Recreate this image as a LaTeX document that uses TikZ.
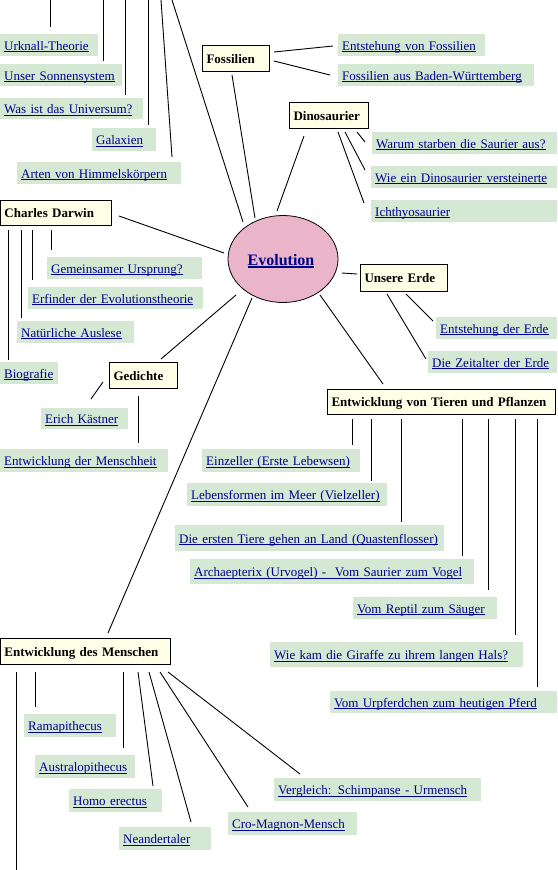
\documentclass[tikz,border=0pt]{standalone}
\usepackage{fontspec}
\setmainfont{Liberation Serif}
\usetikzlibrary{calc,shapes.geometric}
\definecolor{gfill}{RGB}{213,232,212}
\definecolor{yfill}{RGB}{255,255,232}
\definecolor{pfill}{RGB}{234,181,200}
\definecolor{lnk}{RGB}{0,0,140}
\newsavebox\lkbox
\newcommand\lk[1]{\sbox\lkbox{\color{lnk}#1}{\color{lnk}\rlap{\rule[-0.16em]{\wd\lkbox}{0.07em}}}\usebox\lkbox}
\tikzset{
  gb/.style={fill=gfill, inner xsep=4pt, inner ysep=0pt, align=left, anchor=north west,
    text height=10pt, text depth=0pt, font=\fontsize{13}{15}\selectfont},
  yb/.style={fill=yfill, draw=black, line width=1pt, inner xsep=4pt, inner ysep=0pt, align=left,
    anchor=north west, text height=9pt, text depth=0pt, font=\fontsize{13}{15}\selectfont\bfseries},
  cn/.style={draw=black, line width=0.9pt},
}
\newcommand\gbx[6]{\pgfmathsetmacro\tw{#4-#2-8}\pgfmathsetmacro\th{#5-#3}%
  \node[gb,text width=\tw pt,minimum height=\th pt] (#1) at (#2,#3) {\lk{#6}};}
\newcommand\ybx[6]{\pgfmathsetmacro\tw{#4-#2-8}\pgfmathsetmacro\th{#5-#3}%
  \node[yb,text width=\tw pt,minimum height=\th pt] (#1) at (#2,#3) {#6};}
\newcommand\cnn[6]{\draw[cn] ($(#1.north west)+(#2,#3)$) -- ($(#4.north west)+(#5,#6)$);}
\begin{document}
\begin{tikzpicture}[x=1pt,y=-1pt]
\useasboundingbox (0,0) rectangle (557,870);
% free ends
\coordinate (t1) at (50,0);
\coordinate (t2) at (103,0);
\coordinate (t3) at (125,0);
\coordinate (t4) at (148,0);
\coordinate (t5) at (161,0);
\coordinate (t6) at (172,0);
\coordinate (b1) at (16,870);
% central node
\node[ellipse, draw=black, fill=pfill, line width=0.8pt, minimum width=110pt, minimum height=87pt, inner sep=0pt,
  text height=12pt, text depth=0pt]
  (evo) at (283,259) {\fontsize{16}{18}\selectfont\bfseries\lk{Evolution}\hspace*{4pt}};
% green boxes
\gbx{urk}{0}{34}{98}{56}{Urknall-Theorie}
\gbx{sonn}{0}{64}{122}{86}{Unser Sonnensystem}
\gbx{univ}{0}{98}{143}{119}{Was ist das Universum?}
\gbx{gal}{92}{128}{156}{151}{Galaxien}
\gbx{himm}{17}{162}{181}{184}{Arten von Himmelskörpern}
\gbx{entf}{338}{34}{485}{56}{Entstehung von Fossilien}
\gbx{fbw}{338}{64}{534}{86}{Fossilien aus Baden-Württemberg}
\gbx{warum}{372}{132}{557}{154}{Warum starben die Saurier aus?}
\gbx{wie}{371}{166}{557}{188}{Wie ein Dinosaurier versteinerte}
\gbx{ich}{371}{200}{557}{222}{Ichthyosaurier}
\gbx{gem}{47}{257}{202}{279}{Gemeinsamer Ursprung?}
\gbx{erf}{28}{287}{203}{309}{Erfinder der Evolutionstheorie}
\gbx{nat}{17}{321}{134}{343}{Natürliche Auslese}
\gbx{bio}{0}{362}{58}{384}{Biografie}
\gbx{erich}{41}{408}{128}{429}{Erich Kästner}
\gbx{menschheit}{0}{449}{168}{472}{Entwicklung der Menschheit}
\gbx{entE}{436}{317}{557}{339}{Entstehung der Erde}
\gbx{zeit}{428}{351}{557}{373}{Die Zeitalter der Erde}
\gbx{einz}{202}{449}{360}{472}{Einzeller (Erste Lebewsen)}
\gbx{meer}{187}{483}{387}{506}{Lebensformen im Meer (Vielzeller)}
\gbx{land}{175}{525}{444}{551}{Die ersten Tiere gehen an Land (Quastenflosser)}
\gbx{arch}{190}{559}{474}{584}{Archaepterix (Urvogel) - \ Vom Saurier zum Vogel}
\gbx{rept}{353}{597}{497}{619}{Vom Reptil zum Säuger}
\gbx{gir}{270}{642}{523}{667}{Wie kam die Giraffe zu ihrem langen Hals?}
\gbx{pferd}{330}{691}{557}{713}{Vom Urpferdchen zum heutigen Pferd}
\gbx{rama}{24}{714}{116}{737}{Ramapithecus}
\gbx{austr}{35}{755}{135}{778}{Australopithecus}
\gbx{homo}{69}{789}{162}{812}{Homo erectus}
\gbx{nean}{119}{827}{211}{850}{Neandertaler}
\gbx{cro}{228}{812}{357}{835}{Cro-Magnon-Mensch}
\gbx{vergl}{274}{778}{481}{801}{Vergleich: Schimpanse - Urmensch}
% ivory boxes
\ybx{foss}{202}{45}{269}{71}{Fossilien}
\ybx{dino}{289}{102}{368}{128}{Dinosaurier}
\ybx{darwin}{0}{200}{111}{225}{Charles Darwin}
\ybx{ged}{109}{362}{177}{388}{Gedichte}
\ybx{erde}{360}{264}{447}{291}{Unsere Erde}
\ybx{tiere}{327}{389}{555}{414}{Entwicklung von Tieren und Pflanzen}
\ybx{mensch}{0}{638}{170}{664}{Entwicklung des Menschen}
% connectors from the top edge
\draw[cn] (t1) -- ($(urk.north west)+(50,-7)$);
\draw[cn] (t2) -- ($(sonn.north west)+(103,-3)$);
\draw[cn] (t3) -- ($(univ.north west)+(125,-3)$);
\draw[cn] (t4) -- ($(gal.north west)+(56,-3)$);
\draw[cn] (t5) -- ($(himm.north west)+(155,-5)$);
\draw[cn] (t6) -- ($(evo.center)+(-40,-37)$);
% Fossilien
\draw[cn] ($(foss.north west)+(30,30)$) -- ($(evo.center)+(-28,-41)$);
\cnn{foss}{72}{7}{entf}{-5}{12}
\cnn{foss}{72}{16}{fbw}{-8}{11}
% Dinosaurier
\draw[cn] ($(dino.north west)+(15,34)$) -- ($(evo.center)+(-6,-48)$);
\cnn{dino}{68}{30}{warum}{-7}{10}
\cnn{dino}{56}{30}{wie}{-6}{4}
\cnn{dino}{49}{30}{ich}{-7}{3}
% Darwin
\draw[cn] ($(darwin.north west)+(119,16)$) -- ($(evo.center)+(-59,-6)$);
\cnn{darwin}{8}{30}{bio}{8}{-2}
\cnn{darwin}{21}{30}{nat}{4}{-3}
\cnn{darwin}{32}{30}{erf}{4}{-7}
\cnn{darwin}{51}{30}{gem}{4}{-7}
% Gedichte
\draw[cn] ($(ged.north west)+(52,-3)$) -- ($(evo.center)+(-47,36)$);
\cnn{ged}{-6}{20}{erich}{50}{-9}
\cnn{ged}{29}{34}{menschheit}{138}{-6}
% Erde
\draw[cn] ($(evo.center)+(59,14)$) -- ($(erde.north west)+(-3,10)$);
\cnn{erde}{46}{30}{entE}{-3}{4}
\cnn{erde}{27}{30}{zeit}{-2}{8}
% Tiere und Pflanzen
\draw[cn] ($(evo.center)+(37,36)$) -- ($(tiere.north west)+(56,-5)$);
\cnn{tiere}{25}{30}{einz}{150}{-4}
\cnn{tiere}{44}{30}{meer}{184}{-2}
\cnn{tiere}{74}{30}{land}{226}{-3}
\cnn{tiere}{135}{30}{arch}{272}{-3}
\cnn{tiere}{161}{30}{rept}{135}{-7}
\cnn{tiere}{188}{30}{gir}{245}{-7}
\cnn{tiere}{210}{30}{pferd}{207}{-4}
% Menschen
\draw[cn] ($(evo.center)+(-31,39)$) -- ($(mensch.north west)+(108,-5)$);
\draw[cn] ($(mensch.north west)+(16,34)$) -- (b1);
\cnn{mensch}{35}{34}{rama}{11}{-7}
\cnn{mensch}{123}{34}{austr}{88}{-7}
\cnn{mensch}{138}{34}{homo}{84}{-3}
\cnn{mensch}{149}{34}{nean}{72}{-5}
\cnn{mensch}{160}{34}{cro}{20}{-5}
\cnn{mensch}{168}{34}{vergl}{26}{-4}
\end{tikzpicture}
\end{document}
